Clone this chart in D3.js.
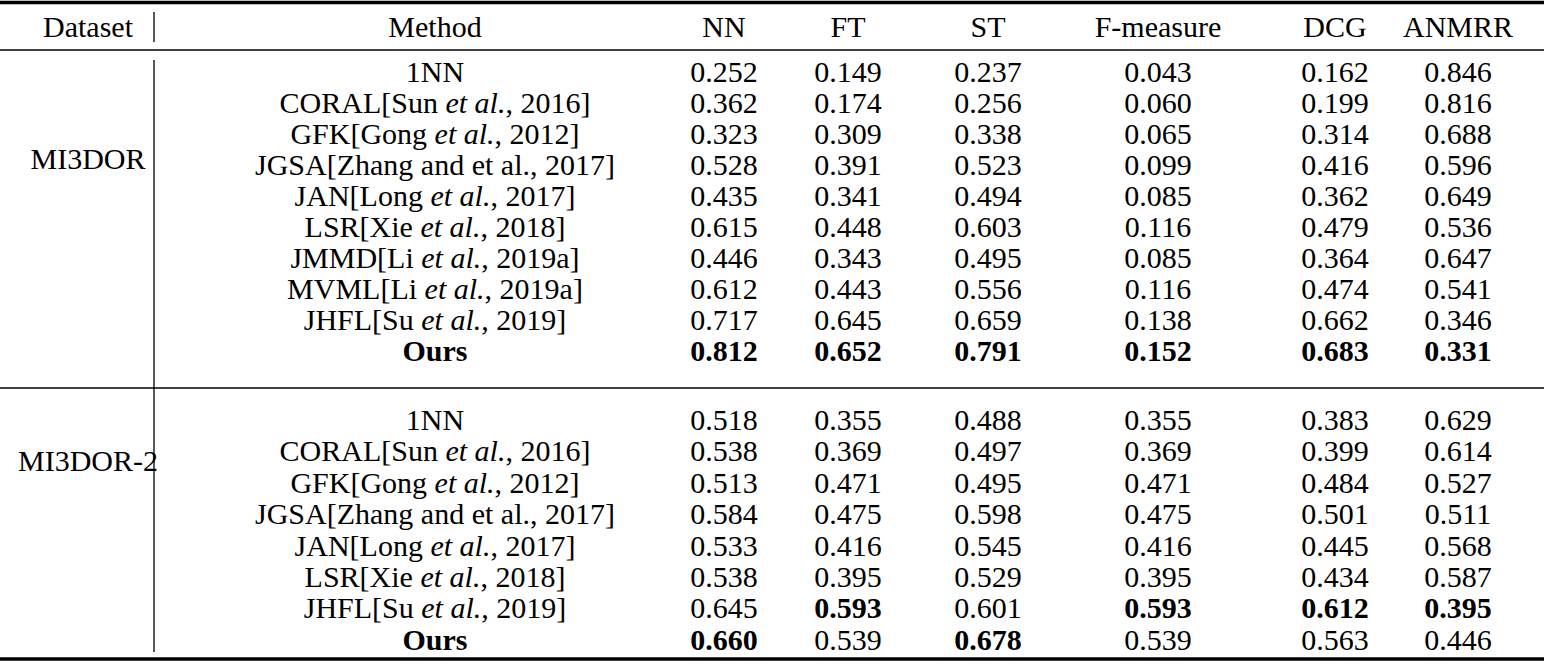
<!DOCTYPE html>
<html>
<head>
<meta charset="utf-8">
<script src="https://cdn.jsdelivr.net/npm/d3@7"></script>
<style>
  html, body { margin: 0; padding: 0; background: #fff; }
</style>
</head>
<body>
<svg id="table"></svg>
<script>
// column headers
const headers = ["Dataset", "Method", "NN", "FT", "ST", "F-measure", "DCG", "ANMRR"];
const metrics = headers.slice(2);

// method labels: [name, italic part, rest]
const methods1 = [
  ["1NN"],
  ["CORAL[Sun ", "et al.", ", 2016]"],
  ["GFK[Gong ", "et al.", ", 2012]"],
  ["JGSA[Zhang and et al., 2017]"],
  ["JAN[Long ", "et al.", ", 2017]"],
  ["LSR[Xie ", "et al.", ", 2018]"],
  ["JMMD[Li ", "et al.", ", 2019a]"],
  ["MVML[Li ", "et al.", ", 2019a]"],
  ["JHFL[Su ", "et al.", ", 2019]"],
  ["Ours"]
];
const values1 = [
  [0.252, 0.149, 0.237, 0.043, 0.162, 0.846],
  [0.362, 0.174, 0.256, 0.060, 0.199, 0.816],
  [0.323, 0.309, 0.338, 0.065, 0.314, 0.688],
  [0.528, 0.391, 0.523, 0.099, 0.416, 0.596],
  [0.435, 0.341, 0.494, 0.085, 0.362, 0.649],
  [0.615, 0.448, 0.603, 0.116, 0.479, 0.536],
  [0.446, 0.343, 0.495, 0.085, 0.364, 0.647],
  [0.612, 0.443, 0.556, 0.116, 0.474, 0.541],
  [0.717, 0.645, 0.659, 0.138, 0.662, 0.346],
  [0.812, 0.652, 0.791, 0.152, 0.683, 0.331]
];
const bold1 = [[9, 0], [9, 1], [9, 2], [9, 3], [9, 4], [9, 5]];

const methods2 = [
  ["1NN"],
  ["CORAL[Sun ", "et al.", ", 2016]"],
  ["GFK[Gong ", "et al.", ", 2012]"],
  ["JGSA[Zhang and et al., 2017]"],
  ["JAN[Long ", "et al.", ", 2017]"],
  ["LSR[Xie ", "et al.", ", 2018]"],
  ["JHFL[Su ", "et al.", ", 2019]"],
  ["Ours"]
];
const values2 = [
  [0.518, 0.355, 0.488, 0.355, 0.383, 0.629],
  [0.538, 0.369, 0.497, 0.369, 0.399, 0.614],
  [0.513, 0.471, 0.495, 0.471, 0.484, 0.527],
  [0.584, 0.475, 0.598, 0.475, 0.501, 0.511],
  [0.533, 0.416, 0.545, 0.416, 0.445, 0.568],
  [0.538, 0.395, 0.529, 0.395, 0.434, 0.587],
  [0.645, 0.593, 0.601, 0.593, 0.612, 0.395],
  [0.660, 0.539, 0.678, 0.539, 0.563, 0.446]
];
const bold2 = [[6, 1], [6, 3], [6, 4], [6, 5], [7, 0], [7, 2]];

const sections = [
  {name: "MI3DOR", methods: methods1, values: values1, bold: bold1, labelRow: 2.8},
  {name: "MI3DOR-2", methods: methods2, values: values2, bold: bold2, labelRow: 1.3}
];

const W = 1544, H = 665;
const FONT = "'Liberation Serif', Tinos, 'Times New Roman', 'DejaVu Serif', serif";
const svg = d3.select("#table").attr("width", W).attr("height", H)
  .attr("font-family", FONT);

const x = d3.scaleOrdinal().domain(headers).range([88, 435, 724, 848, 988, 1158, 1335, 1458]);
const fs = 30;

// rules
const rule = (y, w) => svg.append("line").attr("x1", 0).attr("x2", W).attr("y1", y).attr("y2", y)
  .attr("stroke", "#000").attr("stroke-width", w);
rule(2.5, 3.5);
rule(50, 1.5);
rule(388, 1.5);
rule(659, 3.5);

const vline = (y1, y2) => svg.append("line").attr("x1", 154).attr("x2", 154).attr("y1", y1).attr("y2", y2)
  .attr("stroke", "#000").attr("stroke-width", 1.3);
vline(12, 42);
vline(60, 388);
vline(388, 652);

const txt = (sel) => sel.attr("font-family", FONT).attr("font-size", fs)
  .attr("text-anchor", "middle").attr("fill", "#000");

// header
svg.selectAll("text.hdr").data(headers).join("text").attr("class", "hdr")
  .attr("x", d => x(d)).attr("y", 37).call(txt).text(d => d);

const starts = [72, 420];
const step = [31, 31.4];

sections.forEach((s, si) => {
  const y = d3.scaleLinear().domain([0, 1]).range([starts[si], starts[si] + step[si]]);
  const g = svg.append("g");
  g.append("text").attr("x", x("Dataset")).attr("y", y(s.labelRow) + 10)
    .call(txt).text(s.name);

  s.methods.forEach((m, i) => {
    const t = g.append("text").attr("x", x("Method")).attr("y", y(i) + 10).call(txt);
    if (m[0] === "Ours") t.attr("font-weight", "bold");
    t.append("tspan").text(m[0]);
    if (m[1]) {
      t.append("tspan").attr("font-style", "italic").text(m[1]);
      t.append("tspan").text(m[2]);
    }
  });

  const isBold = (i, j) => s.bold.some(b => b[0] === i && b[1] === j);
  s.values.forEach((row, i) => {
    g.selectAll(null).data(row).join("text")
      .attr("x", (d, j) => x(metrics[j])).attr("y", y(i) + 10)
      .call(txt)
      .attr("font-weight", (d, j) => isBold(i, j) ? "bold" : null)
      .text(d => d.toFixed(3));
  });
});
</script>
</body>
</html>
